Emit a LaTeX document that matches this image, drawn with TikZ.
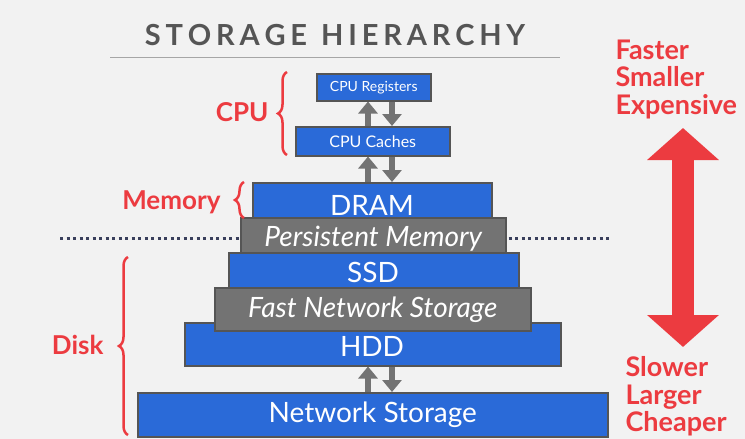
\documentclass[tikz,border=0pt]{standalone}
\usepackage{fontspec}
\setmainfont{Lato}
\usetikzlibrary{decorations.pathreplacing,arrows.meta}
\definecolor{bg}{HTML}{F2F2F2}
\definecolor{blu}{HTML}{2A6AD8}
\definecolor{gry}{HTML}{737373}
\definecolor{edg}{HTML}{555555}
\definecolor{rd}{HTML}{EC3B40}
\definecolor{ttl}{HTML}{555555}
\definecolor{nav}{HTML}{3A3F5C}
\tikzset{
 lvl/.style={draw=edg,line width=1.5pt,fill=blu,text=white,inner sep=0pt,anchor=north west},
 glvl/.style={lvl,fill=gry},
 big/.style={font=\fontsize{28}{30}\selectfont},
 bigi/.style={font=\fontsize{28}{30}\selectfont\itshape},
 brc/.style={draw=rd,line width=2.5pt,decoration={brace,amplitude=9pt}, decorate},
 rlab/.style={text=rd,font=\fontsize{26}{28}\selectfont\bfseries},
 arr/.style={draw=gry,line width=6pt,-{Triangle[width=19pt,length=12pt]}}
}
\begin{document}
\begin{tikzpicture}[x=1pt,y=-1pt]
\fill[bg] (0,0) rectangle (745,439);
\useasboundingbox (0,0) rectangle (745,439);
\node[text=ttl,font=\fontsize{29}{30}\selectfont\bfseries] (title) at (335,35) {S\,T\,O\,R\,A\,G\,E\ \ H\,I\,E\,R\,A\,R\,C\,H\,Y};
\draw[gray!70,line width=1pt] (110,57) -- (560,57);
\draw[nav,line width=3pt,dash pattern=on 3pt off 3.5pt] (60,238) -- (612,238);
% boxes
\node[lvl,minimum width=114,minimum height=27,font=\fontsize{14}{15}\selectfont] (reg) at (316,73) {CPU Registers};
\node[lvl,minimum width=154,minimum height=29,font=\fontsize{16}{17}\selectfont] (cache) at (295,126) {CPU Caches};
\node[lvl,minimum width=239,minimum height=40] (dram) at (252,182) {};
\node[big,text=white] (dramt) at (372,205) {DRAM};
\node[glvl,minimum width=265,minimum height=41,bigi] (pm) at (240,217) {Persistent Memory};
\node[lvl,minimum width=290,minimum height=37] (ssd) at (228,252) {};
\node[big,text=white] (ssdt) at (373,272) {SSD};
\node[lvl,minimum width=376,minimum height=43] (hdd) at (184,322) {};
\node[glvl,minimum width=316,minimum height=43,bigi] (fns) at (214,287) {Fast Network Storage};
\node[big,text=white] (hddt) at (372,346) {HDD};
\node[lvl,minimum width=470,minimum height=44,big] (net) at (137,392) {Network Storage};
% arrows
\draw[arr] (cache.north -| 368,0) -- (reg.south -| 368,0);
\draw[arr] (reg.south -| 392,0) -- (cache.north -| 392,0);
\draw[arr] (dram.north -| 368,0) -- (cache.south -| 368,0);
\draw[arr] (cache.south -| 392,0) -- (dram.north -| 392,0);
\draw[arr] (net.north -| 368,0) -- (hdd.south -| 368,0);
\draw[arr] (hdd.south -| 392,0) -- (net.north -| 392,0);
% braces
\coordinate (c1) at (287,155); \coordinate (c2) at (287,72);
\draw[brc] (c1) -- (c2);
\node[rlab,anchor=east] (cpu) at (272,112) {CPU};
\coordinate (m1) at (244,218); \coordinate (m2) at (244,182);
\draw[brc] (m1) -- (m2);
\node[rlab,anchor=east] (mem) at (224,202) {Memory};
\coordinate (d1) at (128,435); \coordinate (d2) at (128,257);
\draw[brc] (d1) -- (d2);
\node[rlab,anchor=east] (disk) at (107,345) {Disk};
% right side
\node[text=rd,font=\fontsize{27}{27.5}\selectfont\bfseries,align=left,anchor=north west] (fast) at (612,36) {Faster\\Smaller\\Expensive};
\node[text=rd,font=\fontsize{27}{27.5}\selectfont\bfseries,align=left,anchor=north west] (slow) at (622,353) {Slower\\Larger\\Cheaper};
\coordinate (at) at (683,128); \coordinate (ab) at (683,347);
\draw[rd,line width=22pt,{Triangle[width=70pt,length=32pt]}-{Triangle[width=70pt,length=32pt]}] (at) -- (ab);
\end{tikzpicture}
\end{document}
